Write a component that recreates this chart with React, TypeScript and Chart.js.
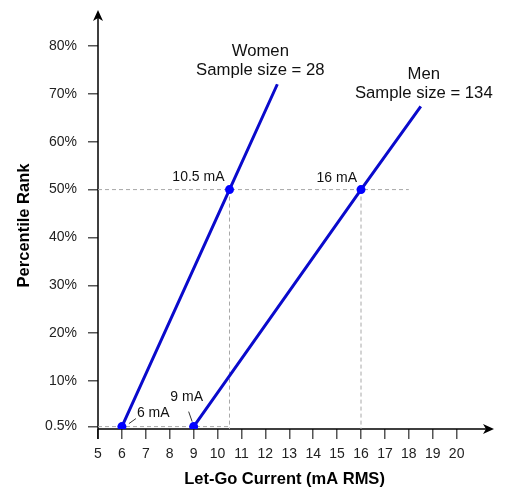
import { useEffect, useRef } from "react";
import { Chart, registerables } from "chart.js";

Chart.register(...registerables);

const xTicks = [5, 6, 7, 8, 9, 10, 11, 12, 13, 14, 15, 16, 17, 18, 19, 20];
const yTicks = [0.5, 10, 20, 30, 40, 50, 60, 70, 80];

const womenCurrent = [6, 10.5, 12.5];
const womenRank = [0.5, 50, 72];
const menCurrent = [9, 16, 18.5];
const menRank = [0.5, 50, 67.4];

const medianRank = 50;
const minRank = 0.5;
const medianGuideEnd = 18;

const womenLabels = ["6 mA", "10.5 mA"];
const menLabels = ["9 mA", "16 mA"];
const womenTitle = ["Women", "Sample size = 28"];
const menTitle = ["Men", "Sample size = 134"];

const FONT = "'Liberation Sans', Arial, sans-serif";
const LINE_BLUE = "#0a0acc";
const POINT_BLUE = "#0000ff";
const GUIDE = "#a8a8a8";

const toPoints = (xs: number[], ys: number[]) => xs.map((x, i) => ({ x, y: ys[i] }));

function arrow(ctx: CanvasRenderingContext2D, x: number, y: number, dir: "up" | "right") {
  ctx.save();
  ctx.translate(x, y);
  if (dir === "right") ctx.rotate(Math.PI / 2);
  ctx.beginPath();
  ctx.moveTo(0, 0);
  ctx.lineTo(-5, 11);
  ctx.lineTo(0, 8);
  ctx.lineTo(5, 11);
  ctx.closePath();
  ctx.fillStyle = "#000";
  ctx.fill();
  ctx.restore();
}

const annotate = {
  id: "annotate",
  beforeDatasetsDraw(chart: any) {
    const { ctx, scales } = chart;
    const x0 = scales.x.getPixelForValue(5);
    const y0 = scales.y.getPixelForValue(0);
    ctx.save();
    ctx.strokeStyle = "#000";
    ctx.lineWidth = 1.5;
    ctx.beginPath();
    ctx.moveTo(x0, y0 + 10);
    ctx.lineTo(x0, 14);
    ctx.moveTo(x0, y0);
    ctx.lineTo(490, y0);
    ctx.stroke();
    arrow(ctx, x0, 10, "up");
    arrow(ctx, 494, y0, "right");
    ctx.restore();
  },
  afterDatasetsDraw(chart: any) {
    const { ctx, scales } = chart;
    const px = (v: number) => scales.x.getPixelForValue(v);
    const py = (v: number) => scales.y.getPixelForValue(v);
    ctx.save();
    ctx.fillStyle = "#111";
    ctx.strokeStyle = "#333";
    ctx.lineWidth = 1;
    ctx.textBaseline = "middle";
    ctx.font = `14px ${FONT}`;

    // 0.5% labels with leaders
    const wx = px(womenCurrent[0]);
    const wy = py(womenRank[0]);
    ctx.textAlign = "left";
    ctx.fillText(womenLabels[0], wx + 15, wy - 13);
    ctx.beginPath();
    ctx.moveTo(wx + 7, wy - 3);
    ctx.lineTo(wx + 14, wy - 8);
    ctx.stroke();

    const mx = px(menCurrent[0]);
    const my = py(menRank[0]);
    ctx.textAlign = "center";
    ctx.fillText(menLabels[0], mx - 7, my - 29);
    ctx.beginPath();
    ctx.moveTo(mx - 5, my - 15);
    ctx.lineTo(mx - 1.5, my - 5);
    ctx.stroke();

    // 50% labels
    ctx.textAlign = "right";
    ctx.fillText(womenLabels[1], px(womenCurrent[1]) - 5, py(womenRank[1]) - 12);
    ctx.fillText(menLabels[1], px(menCurrent[1]) - 4, py(menRank[1]) - 11);

    // series titles
    ctx.font = `16.7px ${FONT}`;
    ctx.textAlign = "center";
    const we = womenCurrent.length - 1;
    const wex = px(womenCurrent[we]);
    const wey = py(womenRank[we]);
    ctx.fillText(womenTitle[0], wex - 17, wey - 33);
    ctx.fillText(womenTitle[1], wex - 17, wey - 14);
    const me = menCurrent.length - 1;
    const mex = px(menCurrent[me]);
    const mey = py(menRank[me]);
    ctx.fillText(menTitle[0], mex + 3, mey - 32);
    ctx.fillText(menTitle[1], mex + 3, mey - 13);
    ctx.restore();
  },
};

export default function App() {
  const canvasRef = useRef<HTMLCanvasElement>(null);

  useEffect(() => {
    if (!canvasRef.current) return;

    const guide = (data: { x: number; y: number }[]) => ({
      data,
      borderColor: GUIDE,
      borderWidth: 1,
      borderDash: [4, 3],
      pointRadius: 0,
      fill: false,
      order: 2,
    });
    const series = (xs: number[], ys: number[]) => ({
      data: toPoints(xs, ys),
      borderColor: LINE_BLUE,
      borderWidth: 3,
      pointRadius: xs.map((_, i) => (i < xs.length - 1 ? 4.5 : 0)),
      pointBackgroundColor: POINT_BLUE,
      pointBorderColor: POINT_BLUE,
      pointBorderWidth: 0,
      tension: 0,
      fill: false,
      order: 1,
    });

    const chart = new Chart(canvasRef.current, {
      type: "line",
      data: {
        datasets: [
          series(womenCurrent, womenRank),
          series(menCurrent, menRank),
          guide([{ x: xTicks[0], y: medianRank }, { x: medianGuideEnd, y: medianRank }]),
          guide([{ x: womenCurrent[1], y: medianRank }, { x: womenCurrent[1], y: 0 }]),
          guide([{ x: menCurrent[1], y: medianRank }, { x: menCurrent[1], y: 0 }]),
          guide([{ x: xTicks[0], y: minRank }, { x: womenCurrent[1], y: minRank }]),
        ] as any,
      },
      options: {
        responsive: true,
        maintainAspectRatio: false,
        animation: false,
        layout: { padding: { left: 0, top: 22, right: 41, bottom: 0 } },
        plugins: { legend: { display: false }, tooltip: { enabled: false } },
        scales: {
          x: {
            type: "linear",
            min: 5,
            max: 20.6,
            afterBuildTicks: (scale: any) => {
              scale.ticks = xTicks.map((value) => ({ value }));
            },
            afterFit: (scale: any) => {
              scale.height = 67;
            },
            ticks: {
              color: "#222",
              padding: 7,
              font: { family: FONT, size: 14 },
              callback: (v: any) => String(v),
            },
            grid: {
              drawOnChartArea: false,
              drawTicks: true,
              tickLength: 10,
              color: "#555",
              lineWidth: 1.5,
            },
            border: { display: false },
            title: {
              display: true,
              text: "Let-Go Current (mA RMS)",
              color: "#000",
              font: { family: FONT, size: 16.5, weight: "bold" },
              padding: { top: 0, bottom: 7 },
            },
          },
          y: {
            type: "linear",
            min: 0,
            max: 85,
            afterBuildTicks: (scale: any) => {
              scale.ticks = yTicks.map((value) => ({ value }));
            },
            afterFit: (scale: any) => {
              scale.width = 98;
            },
            ticks: {
              color: "#222",
              padding: 11,
              font: { family: FONT, size: 14 },
              callback: (v: any) => `${v}%`,
            },
            grid: {
              drawOnChartArea: false,
              drawTicks: true,
              tickLength: 10,
              color: "#555",
              lineWidth: 1.5,
            },
            border: { display: false },
            title: {
              display: true,
              text: "Percentile Rank",
              color: "#000",
              font: { family: FONT, size: 16.5, weight: "bold" },
              padding: { top: 15, bottom: 0 },
            },
          },
        },
      },
      plugins: [annotate],
    });

    return () => chart.destroy();
  }, []);

  return (
    <div style={{ position: "fixed", left: 0, top: 0, width: 512, height: 496, background: "#fff" }}>
      <canvas ref={canvasRef} />
    </div>
  );
}
